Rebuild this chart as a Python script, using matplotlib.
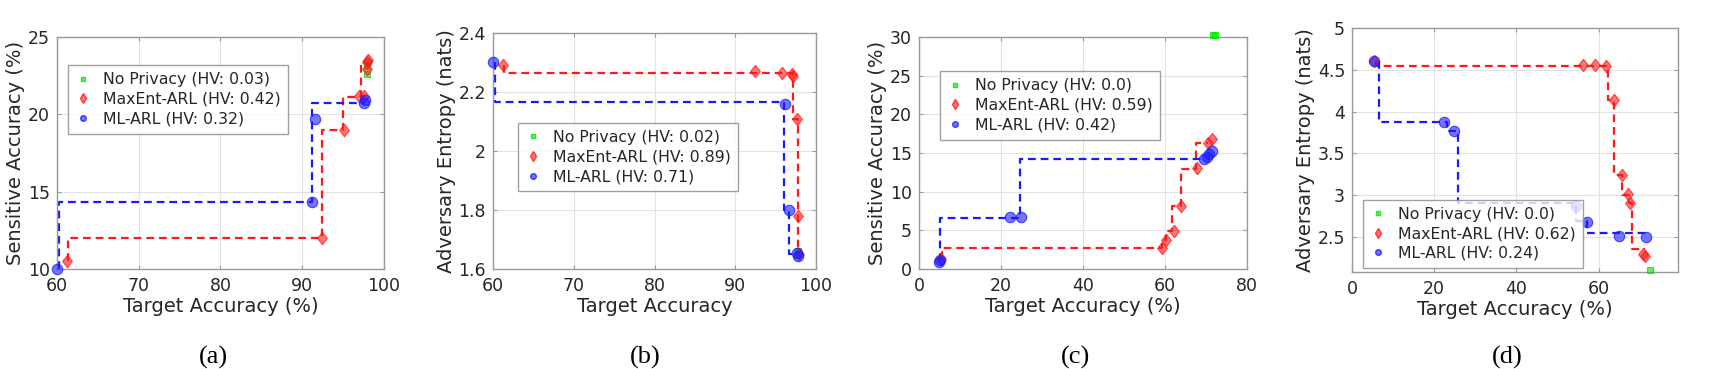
import matplotlib
matplotlib.use('Agg')
import matplotlib.pyplot as plt
from matplotlib.lines import Line2D

# ---------------- data ----------------
# (a) sensitive accuracy vs target accuracy
a_np_x = [97.9, 97.9, 98.0]
a_np_y = [22.6, 23.1, 23.4]
a_me_x = [61.2, 92.4, 95.1, 96.9, 97.6, 97.9, 97.9, 98.0]
a_me_y = [10.5, 12.0, 19.0, 21.2, 21.2, 22.9, 23.4, 23.5]
a_ml_x = [60.0, 91.2, 91.6, 97.5, 97.7]
a_ml_y = [10.0, 14.3, 19.7, 20.7, 20.9]
a_me_fx = [61.4, 92.4, 95.0, 97.2, 97.8]
a_me_fy = [10.5, 12.0, 19.0, 21.1, 23.4]
a_ml_fx = [60.3, 91.2, 97.5]
a_ml_fy = [10.0, 14.3, 20.7]

# (b) adversary entropy vs target accuracy
b_np_x = [97.8]
b_np_y = [1.66]
b_me_x = [61.2, 92.4, 95.8, 97.0, 97.2, 97.6, 97.8, 97.9]
b_me_y = [2.29, 2.27, 2.265, 2.26, 2.255, 2.11, 1.78, 1.65]
b_ml_x = [60.0, 96.1, 96.7, 97.6, 97.8]
b_ml_y = [2.30, 2.16, 1.80, 1.655, 1.645]
b_me_fx = [61.3, 97.2, 97.7, 97.8]
b_me_fy = [2.29, 2.265, 2.11, 1.65]
b_ml_fx = [60.3, 96.0, 96.7, 97.8]
b_ml_fy = [2.30, 2.165, 1.80, 1.65]

# (c) sensitive accuracy vs target accuracy
c_np_x = [71.8, 72.2]
c_np_y = [30.3, 30.3]
c_me_x = [5.4, 59.2, 60.3, 62.1, 64.0, 67.8, 70.6, 71.4]
c_me_y = [1.3, 2.7, 3.7, 4.9, 8.2, 13.0, 16.3, 16.8]
c_ml_x = [4.9, 5.1, 22.3, 24.9, 69.6, 70.3, 70.8, 71.4]
c_ml_y = [0.9, 1.1, 6.7, 6.7, 14.2, 14.5, 14.9, 15.3]
c_me_fx = [5.6, 59.2, 60.3, 61.8, 63.9, 67.6, 70.6]
c_me_fy = [1.3, 2.7, 3.7, 4.9, 8.1, 12.9, 16.3]
c_ml_fx = [5.2, 24.6, 69.6]
c_ml_fy = [1.0, 6.6, 14.2]

# (d) adversary entropy vs target accuracy
d_np_x = [72.5]
d_np_y = [2.1]
d_me_x = [5.3, 56.3, 59.0, 61.9, 63.7, 65.6, 67.2, 67.6, 70.9, 71.3]
d_me_y = [4.61, 4.56, 4.56, 4.55, 4.14, 3.24, 3.01, 2.91, 2.30, 2.27]
d_ml_x = [5.3, 22.4, 24.9, 54.4, 57.1, 64.9, 71.4]
d_ml_y = [4.6, 3.87, 3.77, 2.87, 2.68, 2.51, 2.50]
d_me_fx = [5.8, 62.3, 63.8, 65.6, 67.3, 68.0, 71.2]
d_me_fy = [4.6, 4.55, 4.14, 3.24, 3.0, 2.9, 2.35]
d_ml_fx = [6.5, 23.0, 25.7, 54.4, 57.1, 71.4]
d_ml_fy = [4.6, 3.88, 3.77, 2.91, 2.69, 2.55]

hv_a = ['0.03', '0.42', '0.32']
hv_b = ['0.02', '0.89', '0.71']
hv_c = ['0.0', '0.59', '0.42']
hv_d = ['0.0', '0.62', '0.24']

captions = ['(a)', '(b)', '(c)', '(d)']

# ---------------- style ----------------
GREEN = (0.0, 0.9, 0.0)
RED = (1.0, 0.1, 0.1)
BLUE = (0.1, 0.1, 1.0)
TXT = '#262626'
DIAMOND = [(0, 1), (0.78, 0), (0, -1), (-0.78, 0), (0, 1)]

plt.rcParams['font.family'] = 'DejaVu Sans'

fig = plt.figure(figsize=(17.21, 3.69), dpi=100)

positions = [
    [0.0331, 0.271, 0.190, 0.629],
    [0.2865, 0.271, 0.1877, 0.6396],
    [0.534, 0.271, 0.1906, 0.629],
    [0.7856, 0.263, 0.1894, 0.661],
]


def fc(c, a):
    return (c[0], c[1], c[2], a)


def draw_panel(ax, npx, npy, mex, mey, mlx, mly, mefx, mefy, mlfx, mlfy, hv):
    ax.plot(mefx, mefy, drawstyle='steps-pre', ls='--', color=RED, lw=1.6, dashes=(3.5, 2.2))
    ax.plot(mlfx, mlfy, drawstyle='steps-pre', ls='--', color=BLUE, lw=1.6, dashes=(3.5, 2.2))
    ax.plot(npx, npy, ls='none', marker='s', ms=5, mfc=fc(GREEN, 0.6),
            mec=fc(GREEN, 0.8), mew=0.8, clip_on=False, zorder=3)
    ax.plot(mex, mey, ls='none', marker=DIAMOND, ms=9, mfc=fc(RED, 0.6),
            mec=fc(RED, 0.75), mew=0.8, clip_on=False, zorder=4)
    ax.plot(mlx, mly, ls='none', marker='o', ms=7.5, mfc=fc(BLUE, 0.6),
            mec=fc(BLUE, 0.75), mew=0.8, clip_on=False, zorder=5)
    handles = [
        Line2D([], [], ls='none', marker='s', ms=3.5, mfc=fc(GREEN, 0.6), mec=fc(GREEN, 0.8)),
        Line2D([], [], ls='none', marker='d', ms=5, mfc=fc(RED, 0.6), mec=fc(RED, 0.8)),
        Line2D([], [], ls='none', marker='o', ms=4, mfc=fc(BLUE, 0.6), mec=fc(BLUE, 0.8)),
    ]
    labels = ['No Privacy (HV: %s)' % hv[0], 'MaxEnt-ARL (HV: %s)' % hv[1],
              'ML-ARL (HV: %s)' % hv[2]]
    ax.grid(True, color='#e3e3e3', lw=0.8)
    ax.set_axisbelow(True)
    for s in ax.spines.values():
        s.set_color('#9a9a9a')
        s.set_linewidth(1.0)
    ax.tick_params(direction='in', length=3, color='#9a9a9a', labelsize=12.5,
                   labelcolor=TXT, top=True, right=True)
    ax.tick_params(axis='x', pad=6)
    ax.tick_params(axis='y', pad=5)
    return handles, labels


def add_legend(ax, handles, labels, loc, anchor):
    leg = ax.legend(handles, labels, loc=loc, bbox_to_anchor=anchor, fontsize=11.3,
                    frameon=True, fancybox=False, edgecolor='#8a8a8a',
                    handlelength=1.0, handletextpad=0.8, borderpad=0.45,
                    labelspacing=0.3, borderaxespad=0)
    leg.get_frame().set_linewidth(1.0)
    for t in leg.get_texts():
        t.set_color(TXT)


# (a)
ax = fig.add_axes(positions[0])
h, l = draw_panel(ax, a_np_x, a_np_y, a_me_x, a_me_y, a_ml_x, a_ml_y,
                  a_me_fx, a_me_fy, a_ml_fx, a_ml_fy, hv_a)
ax.set_xlim(60, 100)
ax.set_ylim(10, 25)
ax.set_xticks([60, 70, 80, 90, 100])
ax.set_yticks([10, 15, 20, 25])
ax.set_xlabel('Target Accuracy (%)', fontsize=14, color=TXT, labelpad=1)
ax.set_ylabel('Sensitive Accuracy (%)', fontsize=14, color=TXT, labelpad=2)
add_legend(ax, h, l, 'upper left', (0.034, 0.879))

# (b)
ax = fig.add_axes(positions[1])
h, l = draw_panel(ax, b_np_x, b_np_y, b_me_x, b_me_y, b_ml_x, b_ml_y,
                  b_me_fx, b_me_fy, b_ml_fx, b_ml_fy, hv_b)
ax.set_xlim(60, 100)
ax.set_ylim(1.6, 2.4)
ax.set_xticks([60, 70, 80, 90, 100])
ax.set_yticks([1.6, 1.8, 2.0, 2.2, 2.4])
ax.set_yticklabels(['1.6', '1.8', '2', '2.2', '2.4'])
ax.set_xlabel('Target Accuracy', fontsize=14, color=TXT, labelpad=1)
ax.set_ylabel('Adversary Entropy (nats)', fontsize=14, color=TXT, labelpad=2)
add_legend(ax, h, l, 'upper left', (0.077, 0.619))

# (c)
ax = fig.add_axes(positions[2])
h, l = draw_panel(ax, c_np_x, c_np_y, c_me_x, c_me_y, c_ml_x, c_ml_y,
                  c_me_fx, c_me_fy, c_ml_fx, c_ml_fy, hv_c)
ax.set_xlim(0, 80)
ax.set_ylim(0, 30)
ax.set_xticks([0, 20, 40, 60, 80])
ax.set_yticks([0, 5, 10, 15, 20, 25, 30])
ax.set_xlabel('Target Accuracy (%)', fontsize=14, color=TXT, labelpad=1)
ax.set_ylabel('Sensitive Accuracy (%)', fontsize=14, color=TXT, labelpad=2)
add_legend(ax, h, l, 'upper left', (0.064, 0.853))

# (d)
ax = fig.add_axes(positions[3])
h, l = draw_panel(ax, d_np_x, d_np_y, d_me_x, d_me_y, d_ml_x, d_ml_y,
                  d_me_fx, d_me_fy, d_ml_fx, d_ml_fy, hv_d)
ax.set_xlim(0, 79.3)
ax.set_ylim(2.08, 5.0)
ax.set_xticks([0, 20, 40, 60])
ax.set_yticks([2.5, 3.0, 3.5, 4.0, 4.5, 5.0])
ax.set_yticklabels(['2.5', '3', '3.5', '4', '4.5', '5'])
ax.set_xlabel('Target Accuracy (%)', fontsize=14, color=TXT, labelpad=1)
ax.set_ylabel('Adversary Entropy (nats)', fontsize=14, color=TXT, labelpad=2)
add_legend(ax, h, l, 'lower left', (0.034, 0.016))

# captions
cap_x = [213 / 1721, 645 / 1721, 1075 / 1721, 1507 / 1721]
for cx, cap in zip(cap_x, captions):
    fig.text(cx, 1 - 357 / 369, cap, ha='center', va='center',
             fontsize=19, family='Liberation Serif', color='black')

fig.savefig('out.png', dpi=100)
